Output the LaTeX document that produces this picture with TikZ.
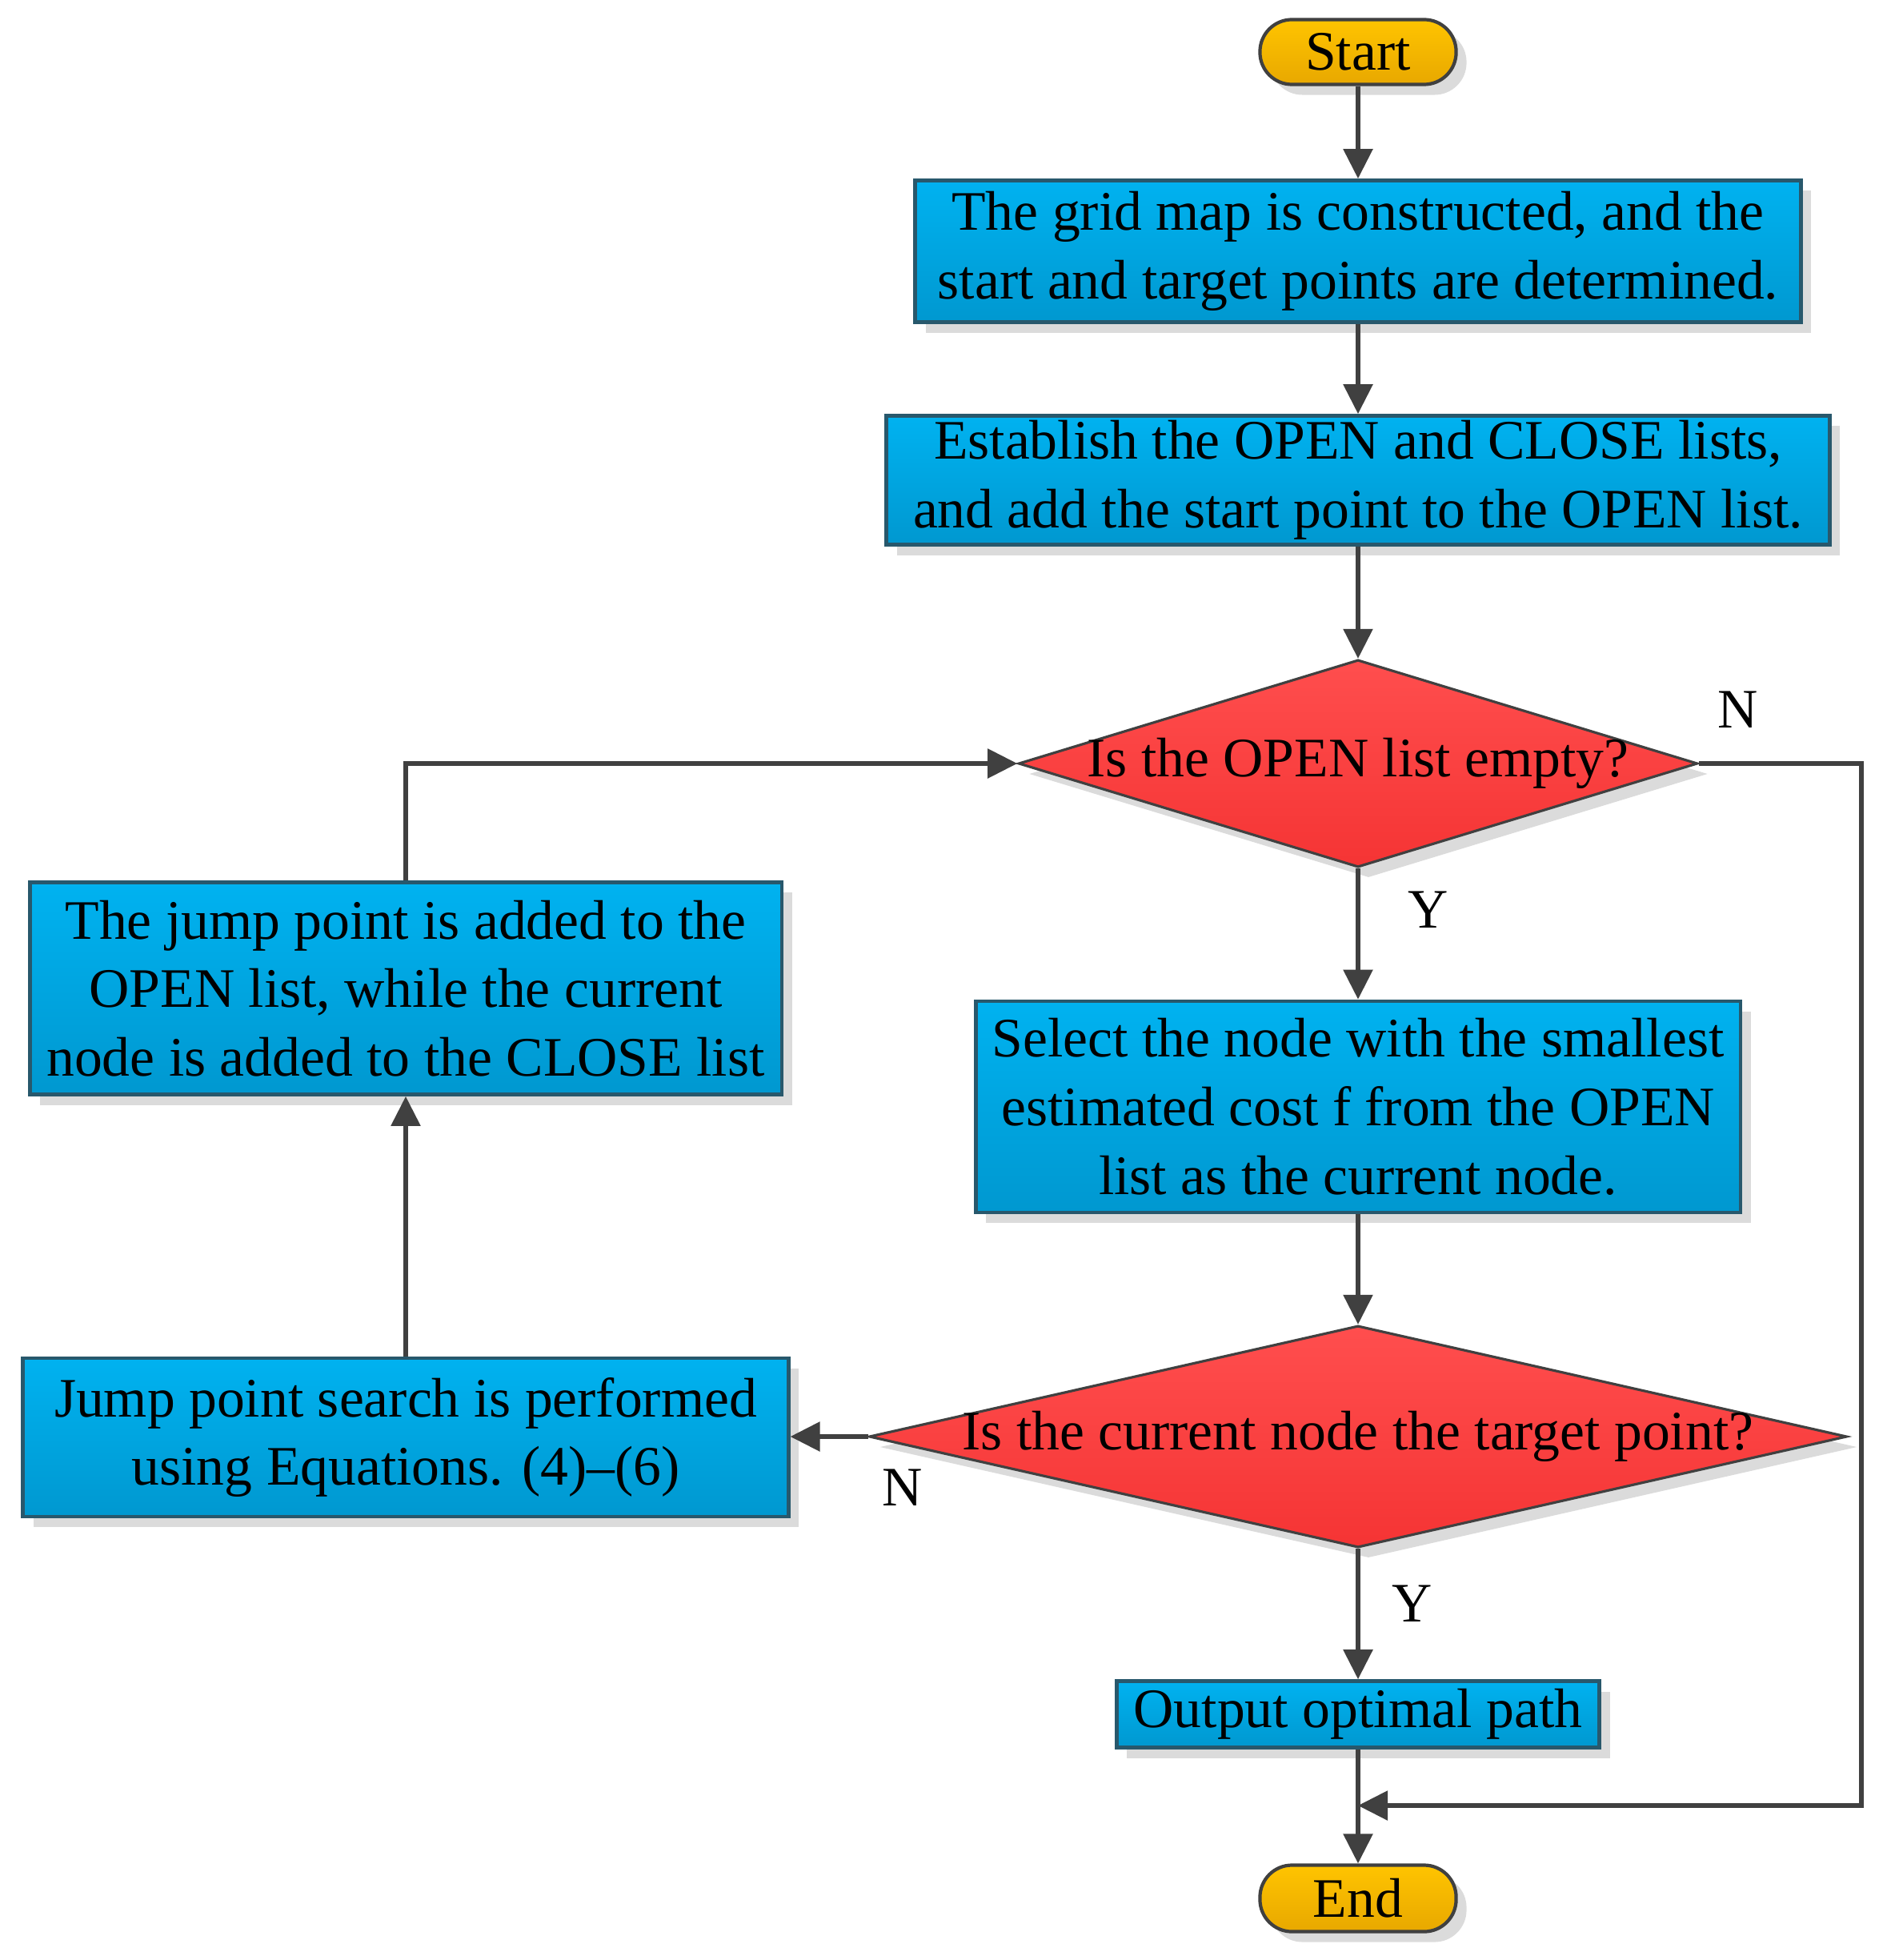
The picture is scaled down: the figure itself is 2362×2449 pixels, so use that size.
\documentclass[tikz,border=0pt]{standalone}
\usepackage{fontspec}
\setmainfont{Liberation Serif}
\usetikzlibrary{arrows.meta,shapes.geometric,shadows}
\definecolor{boxtop}{RGB}{0,178,240}
\definecolor{boxbot}{RGB}{0,152,208}
\definecolor{boxline}{RGB}{40,88,108}
\definecolor{redtop}{RGB}{255,78,78}
\definecolor{redbot}{RGB}{245,52,52}
\definecolor{yeltop}{RGB}{255,196,0}
\definecolor{yelbot}{RGB}{232,168,0}
\definecolor{linecol}{RGB}{64,64,64}
\tikzset{
  txt/.style={font=\fontsize{19.8}{24.4}\selectfont, text=black},
  shad/.style={drop shadow={shadow xshift=0.13cm, shadow yshift=-0.13cm, fill=black!14, opacity=1}},
  box/.style={txt, shad, draw=boxline, line width=1.3pt, top color=boxtop, bottom color=boxbot, align=center, inner sep=0pt},
  term/.style={txt, shad, draw=linecol, line width=1.2pt, top color=yeltop, bottom color=yelbot, rounded corners=0.4cm, inner sep=0pt},
  decision/.style={txt, shad, diamond, draw=linecol, line width=0.9pt, top color=redtop, bottom color=redbot, inner sep=0pt},
  arr/.style={draw=linecol, line width=1.6pt, -{Triangle[length=0.37cm,width=0.36cm]}},
  lbl/.style={txt, inner sep=0pt}
}
\begin{document}
\begin{tikzpicture}[x=0.01cm,y=-0.01cm]
\useasboundingbox (0,0) rectangle (2362,2449);
\node[term, minimum width=2.45cm, minimum height=0.81cm] (start) at (1697,65) {Start};
\node[box, minimum width=11.06cm, minimum height=1.77cm] (b1) at (1697,314) {The grid map is constructed, and the\\start and target points are determined.};
\node[box, minimum width=11.78cm, minimum height=1.61cm] (b2) at (1697,600) {Establish the OPEN and CLOSE lists,\\and add the start point to the OPEN list.};
\node[decision, minimum width=8.48cm, minimum height=2.59cm] (d1) at (1697,954) {\makebox[0pt]{Is the OPEN list empty?}};
\node[box, minimum width=9.55cm, minimum height=2.64cm] (b4) at (1697,1383) {Select the node with the smallest\\estimated cost f from the OPEN\\list as the current node.};
\node[decision, minimum width=12.21cm, minimum height=2.77cm] (d2) at (1697,1795) {\makebox[0pt]{Is the current node the target point?}};
\node[box, minimum width=9.39cm, minimum height=2.65cm] (b3) at (507,1235) {The jump point is added to the\\OPEN list, while the current\\node is added to the CLOSE list};
\node[box, minimum width=9.56cm, minimum height=1.98cm] (b5) at (507,1796) {Jump point search is performed\\using Equations. (4)--(6)};
\node[box, minimum width=6.03cm, minimum height=0.83cm] (b6) at (1697,2142) {Output optimal path};
\node[term, minimum width=2.45cm, minimum height=0.83cm] (end) at (1697,2372) {End};
\coordinate (merge) at (1697,2256);
\coordinate (rt) at (2326,954);

\draw[arr] (start) -- (b1);
\draw[arr] (b1) -- (b2);
\draw[arr] (b2) -- (d1);
\draw[arr] (d1) -- (b4);
\draw[arr] (b4) -- (d2);
\draw[arr] (d2.south) -- (b6.north);
\draw[arr] (b6) -- (end);
\draw[arr] (d2.west) -- (d2.west -| b5.east);
\draw[arr] (b5) -- (b3);
\draw[arr] (b3.north) |- (d1.west);
\draw[arr] (d1.east) -- (rt) |- (merge);

\node[lbl] (n1) at (2172,887) {N};
\node[lbl] (y1) at (1785,1137) {Y};
\node[lbl] (n2) at (1128,1859) {N};
\node[lbl] (y2) at (1765,2004) {Y};
\end{tikzpicture}
\end{document}
